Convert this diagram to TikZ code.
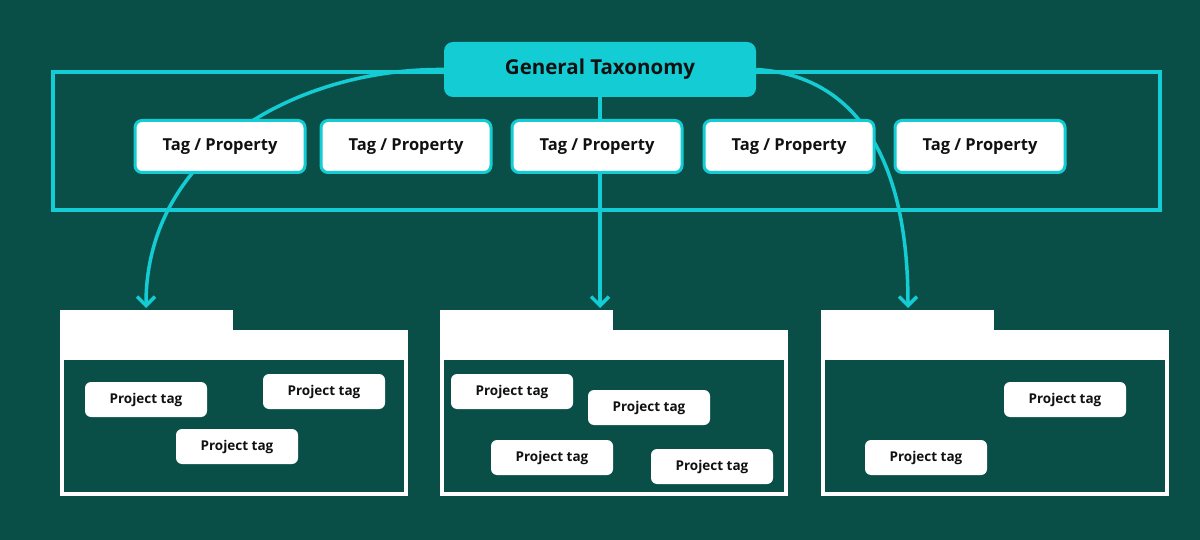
\documentclass[tikz,border=0pt]{standalone}
\usepackage{fontspec}
\setmainfont{Open Sans}
\usetikzlibrary{arrows.meta}
\definecolor{bg}{HTML}{0A4F47}
\definecolor{cy}{HTML}{14CCD4}
\definecolor{tx}{HTML}{111111}
\begin{document}
\begin{tikzpicture}[x=1pt,y=-1pt,
 tag/.style={draw=cy,line width=3pt,fill=white,rounded corners=7pt,minimum width=170pt,minimum height=52pt,font=\bfseries\fontsize{16.5}{18}\selectfont,text=tx},
 ptag/.style={fill=white,rounded corners=6pt,minimum width=122pt,minimum height=35pt,font=\bfseries\fontsize{13.5}{15}\selectfont,text=tx},
 conn/.style={cy,line width=3.5pt,-{Straight Barb[length=9pt,width=18pt,line width=3.5pt]}},
 fold/.style={fill=white}]
\fill[bg] (0,0) rectangle (1200,540);
\useasboundingbox (0,0) rectangle (1200,540);
\draw[cy,line width=4pt] (53,72) rectangle (1160,210);
\node[fill=cy,rounded corners=9pt,minimum width=312pt,minimum height=55pt,font=\bfseries\fontsize{20.5}{22}\selectfont,text=tx] (gt) at (600,69.5) {\raisebox{-1pt}{General Taxonomy}};
\coordinate (a1) at (146,308);
\coordinate (a2) at (600,308);
\coordinate (a3) at (908,308);
\draw[conn] (gt.west) .. controls (300,68) and (146,150) .. (a1);
\draw[conn] (gt.south) -- (a2);
\draw[conn] (gt.east) .. controls (850,75) and (908,150) .. (a3);
\node[tag] (t1) at (220,146.5) {Tag / Property};
\node[tag] (t2) at (406,146.5) {Tag / Property};
\node[tag] (t3) at (597,146.5) {Tag / Property};
\node[tag] (t4) at (789,146.5) {Tag / Property};
\node[tag] (t5) at (980,146.5) {Tag / Property};
\foreach \x/\n in {60/f1,440/f2,821/f3}{
 \fill[white] (\x,310) rectangle (\x+173,331);
 \fill[white] (\x,330) rectangle (\x+348,496);
 \fill[bg] (\x+4,360) rectangle (\x+344,492);
}
\node[ptag] (p1) at (146,399.5) {Project tag};
\node[ptag] (p2) at (324,391.5) {Project tag};
\node[ptag] (p3) at (237,446.5) {Project tag};
\node[ptag] (p4) at (512,391.5) {Project tag};
\node[ptag] (p5) at (649,407.5) {Project tag};
\node[ptag] (p6) at (552,457.5) {Project tag};
\node[ptag] (p7) at (712,466.5) {Project tag};
\node[ptag] (p8) at (1065,399.5) {Project tag};
\node[ptag] (p9) at (926,457.5) {Project tag};
\end{tikzpicture}
\end{document}
